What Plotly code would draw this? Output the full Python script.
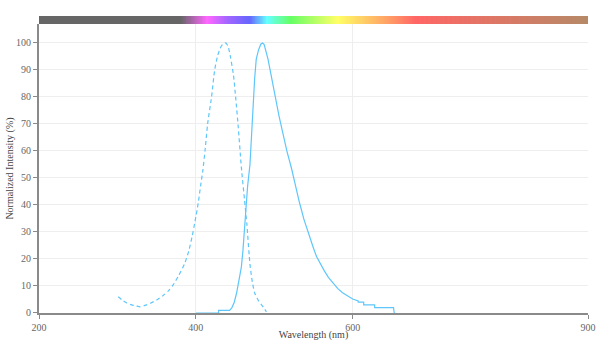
import plotly.graph_objects as go

# Excitation spectrum (dashed)
ex_wl = [301, 306, 312, 318, 324, 329, 335, 342, 350, 358, 365, 371, 378, 386, 391, 395,
         399, 403, 406, 409, 412, 415, 420, 424, 428, 432, 435, 438, 441, 444, 448, 451,
         454, 458, 462, 465, 469, 472, 475, 480, 486, 490]
ex_val = [6, 4.8, 3.7, 3.0, 2.6, 2.3, 2.8, 3.6, 4.8, 6.4, 8.2, 10.4, 13.8, 18.5, 23, 28,
          34, 40.7, 47, 53, 61, 70, 80, 90, 95.5, 98.6, 99.7, 100, 98.8, 95, 88, 79,
          69, 54, 42, 33, 18, 11.5, 7.4, 4.5, 2.2, 0.4]

# Emission spectrum (solid)
em_wl = [400, 429, 429, 443, 446, 449, 452, 455, 458, 460, 462, 464, 466, 469, 471, 473,
         475, 477, 480, 483, 485, 487, 489, 492, 496, 501, 506, 511, 516, 522, 527, 532,
         538, 545, 550, 554, 559, 564, 569, 575, 581, 587, 593, 600, 607, 607, 614, 614,
         628, 628, 652, 653]
em_val = [0, 0, 1, 1, 2, 4, 7.5, 12, 17, 23, 31, 40, 47, 55, 66, 78,
          87, 94, 97.5, 99.6, 100, 99.5, 97.5, 94, 88, 80, 73, 66.5, 60, 53.5, 47, 41,
          34.5, 28, 24, 20.8, 18, 15.5, 13.2, 11, 9, 7.5, 6.3, 5.2, 4.5, 4, 4, 3,
          3, 2, 2, 0]

# Visible-spectrum strip along the top
strip_stops = [200, 380, 414, 440, 468, 490, 520, 580, 640, 680, 900]
strip_colors = ["#666666", "#666666", "#ff66ff", "#a066ff", "#6666ff", "#66ffff",
                "#66ff66", "#ffff66", "#ffa666", "#ff6666", "#b58a66"]
strip_wl = list(range(200, 901, 2))

x_ticks = [200, 400, 600, 900]
y_ticks = list(range(0, 101, 10))

line_color = "#5ec6fb"
serif = "Liberation Serif"

wl_min, wl_max = 200, 900
colorscale = [[(w - wl_min) / (wl_max - wl_min), c] for w, c in zip(strip_stops, strip_colors)]

fig = go.Figure()

fig.add_trace(go.Heatmap(
    x=strip_wl, y=[0], z=[strip_wl], zmin=wl_min, zmax=wl_max,
    colorscale=colorscale, showscale=False, zsmooth="best",
    hoverinfo="skip", xaxis="x", yaxis="y2",
))

fig.add_trace(go.Scatter(
    x=ex_wl, y=ex_val, mode="lines", name="Excitation",
    line=dict(color=line_color, width=1.2, dash="4px,3px", shape="spline", smoothing=0.6),
))
fig.add_trace(go.Scatter(
    x=em_wl, y=em_val, mode="lines", name="Emission",
    line=dict(color=line_color, width=1.2),
))

fig.update_layout(
    width=600, height=341,
    margin=dict(l=39, r=12, t=16, b=28),
    paper_bgcolor="white", plot_bgcolor="white",
    showlegend=False,
    font=dict(family=serif, size=10, color="#444"),
    xaxis=dict(
        range=[wl_min, wl_max], tickvals=x_ticks, ticktext=[str(v) for v in x_ticks],
        showgrid=True, gridcolor="#eeeeee", gridwidth=1,
        showline=True, linecolor="#8a8a8a", linewidth=2,
        ticks="outside", ticklen=4, tickcolor="#8a8a8a",
        zeroline=False, automargin=False,
        title=dict(text="Wavelength (nm)", font=dict(size=10, family=serif, color="#444"), standoff=3),
        tickfont=dict(size=10, family=serif, color="#666"),
    ),
    yaxis=dict(
        domain=[0, 0.973], range=[0, 107], tickvals=y_ticks,
        showgrid=True, gridcolor="#eeeeee", gridwidth=1,
        showline=True, linecolor="#8a8a8a", linewidth=2,
        ticks="outside", ticklen=4, tickcolor="#8a8a8a",
        zeroline=False, automargin=False,
        title=dict(text="Normalized Intensity (%)", font=dict(size=10, family=serif, color="#444"), standoff=0),
        tickfont=dict(size=10, family=serif, color="#666"),
    ),
    yaxis2=dict(
        domain=[0.973, 1], range=[-0.5, 0.5], showticklabels=False, showgrid=False,
        zeroline=False, showline=False, ticks="", anchor="x",
    ),
)

fig.write_html("out.html")
